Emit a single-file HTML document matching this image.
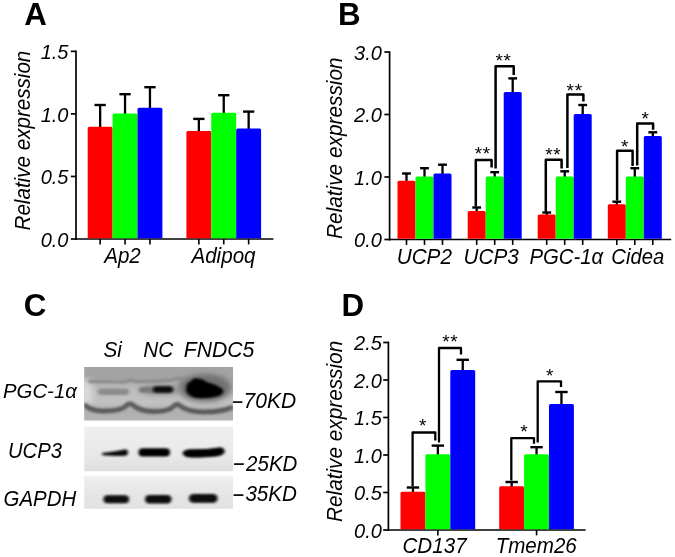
<!DOCTYPE html>
<html><head><meta charset="utf-8"><title>Figure</title>
<style>
html,body{margin:0;padding:0;background:#fff;}
body{width:675px;height:557px;overflow:hidden;}
svg{display:block;}
svg text{font-family:"Liberation Sans",sans-serif;fill:#000;}
</style></head><body>
<svg width="675" height="557" viewBox="0 0 675 557">
<rect width="675" height="557" fill="#fff"/>
<text x="24.3" y="25.4" font-size="31.3" text-anchor="start" font-weight="bold">A</text>
<line x1="76" y1="50.6" x2="76" y2="240" stroke="#000" stroke-width="1.7" stroke-linecap="butt"/>
<line x1="75.15" y1="239" x2="273.4" y2="239" stroke="#000" stroke-width="1.7" stroke-linecap="butt"/>
<line x1="70.8" y1="239.0" x2="76" y2="239.0" stroke="#000" stroke-width="1.7" stroke-linecap="butt"/>
<text x="68.5" y="246.8" font-size="21" text-anchor="end" font-style="italic" textLength="27.8" lengthAdjust="spacingAndGlyphs">0.0</text>
<line x1="70.8" y1="176.45" x2="76" y2="176.45" stroke="#000" stroke-width="1.7" stroke-linecap="butt"/>
<text x="68.5" y="184.25" font-size="21" text-anchor="end" font-style="italic" textLength="27.8" lengthAdjust="spacingAndGlyphs">0.5</text>
<line x1="70.8" y1="113.9" x2="76" y2="113.9" stroke="#000" stroke-width="1.7" stroke-linecap="butt"/>
<text x="68.5" y="121.7" font-size="21" text-anchor="end" font-style="italic" textLength="27.8" lengthAdjust="spacingAndGlyphs">1.0</text>
<line x1="70.8" y1="51.35" x2="76" y2="51.35" stroke="#000" stroke-width="1.7" stroke-linecap="butt"/>
<text x="68.5" y="59.15" font-size="21" text-anchor="end" font-style="italic" textLength="27.8" lengthAdjust="spacingAndGlyphs">1.5</text>
<text x="29.6" y="140.6" font-size="21.8" text-anchor="middle" font-style="italic" textLength="179.8" lengthAdjust="spacingAndGlyphs" transform="rotate(-90 29.6 140.6)">Relative expression</text>
<line x1="100.15" y1="105" x2="100.15" y2="127.7" stroke="#000" stroke-width="2.3" stroke-linecap="butt"/>
<line x1="94.5" y1="105" x2="105.80000000000001" y2="105" stroke="#000" stroke-width="2.4" stroke-linecap="butt"/>
<path d="M87.70 238.2 V128.20 Q87.70 126.70 89.20 126.70 H111.10 Q112.60 126.70 112.60 128.20 V238.2 Z" fill="#ff0000"/>
<line x1="100.15" y1="239" x2="100.15" y2="244.4" stroke="#000" stroke-width="1.6" stroke-linecap="butt"/>
<line x1="125.05" y1="94.2" x2="125.05" y2="114.4" stroke="#000" stroke-width="2.3" stroke-linecap="butt"/>
<line x1="119.39999999999999" y1="94.2" x2="130.7" y2="94.2" stroke="#000" stroke-width="2.4" stroke-linecap="butt"/>
<path d="M112.60 238.2 V114.90 Q112.60 113.40 114.10 113.40 H136.00 Q137.50 113.40 137.50 114.90 V238.2 Z" fill="#00ff00"/>
<line x1="125.05" y1="239" x2="125.05" y2="244.4" stroke="#000" stroke-width="1.6" stroke-linecap="butt"/>
<line x1="149.95" y1="87.2" x2="149.95" y2="108.8" stroke="#000" stroke-width="2.3" stroke-linecap="butt"/>
<line x1="144.29999999999998" y1="87.2" x2="155.6" y2="87.2" stroke="#000" stroke-width="2.4" stroke-linecap="butt"/>
<path d="M137.50 238.2 V109.30 Q137.50 107.80 139.00 107.80 H160.90 Q162.40 107.80 162.40 109.30 V238.2 Z" fill="#0000ff"/>
<line x1="149.95" y1="239" x2="149.95" y2="244.4" stroke="#000" stroke-width="1.6" stroke-linecap="butt"/>
<text x="104.2" y="262.9" font-size="21.8" text-anchor="start" font-style="italic" textLength="36.6" lengthAdjust="spacingAndGlyphs">Ap2</text>
<line x1="198.85000000000002" y1="118.9" x2="198.85000000000002" y2="132" stroke="#000" stroke-width="2.3" stroke-linecap="butt"/>
<line x1="193.20000000000002" y1="118.9" x2="204.50000000000003" y2="118.9" stroke="#000" stroke-width="2.4" stroke-linecap="butt"/>
<path d="M186.40 238.2 V132.50 Q186.40 131.00 187.90 131.00 H209.80 Q211.30 131.00 211.30 132.50 V238.2 Z" fill="#ff0000"/>
<line x1="198.85" y1="239" x2="198.85" y2="244.4" stroke="#000" stroke-width="1.6" stroke-linecap="butt"/>
<line x1="223.75" y1="95.2" x2="223.75" y2="113.8" stroke="#000" stroke-width="2.3" stroke-linecap="butt"/>
<line x1="218.1" y1="95.2" x2="229.4" y2="95.2" stroke="#000" stroke-width="2.4" stroke-linecap="butt"/>
<path d="M211.30 238.2 V114.30 Q211.30 112.80 212.80 112.80 H234.70 Q236.20 112.80 236.20 114.30 V238.2 Z" fill="#00ff00"/>
<line x1="223.75" y1="239" x2="223.75" y2="244.4" stroke="#000" stroke-width="1.6" stroke-linecap="butt"/>
<line x1="248.64999999999998" y1="111.6" x2="248.64999999999998" y2="129.5" stroke="#000" stroke-width="2.3" stroke-linecap="butt"/>
<line x1="242.99999999999997" y1="111.6" x2="254.29999999999998" y2="111.6" stroke="#000" stroke-width="2.4" stroke-linecap="butt"/>
<path d="M236.20 238.2 V130.00 Q236.20 128.50 237.70 128.50 H259.60 Q261.10 128.50 261.10 130.00 V238.2 Z" fill="#0000ff"/>
<line x1="248.64999999999998" y1="239" x2="248.64999999999998" y2="244.4" stroke="#000" stroke-width="1.6" stroke-linecap="butt"/>
<text x="191.4" y="262.9" font-size="21.8" text-anchor="start" font-style="italic" textLength="64.2" lengthAdjust="spacingAndGlyphs">Adipoq</text>
<text x="338.0" y="25.4" font-size="31.3" text-anchor="start" font-weight="bold">B</text>
<line x1="389.6" y1="51.2" x2="389.6" y2="240.5" stroke="#000" stroke-width="1.7" stroke-linecap="butt"/>
<line x1="388.75" y1="239.5" x2="671.2" y2="239.5" stroke="#000" stroke-width="1.7" stroke-linecap="butt"/>
<line x1="384.40000000000003" y1="239.5" x2="389.6" y2="239.5" stroke="#000" stroke-width="1.7" stroke-linecap="butt"/>
<text x="381.9" y="247.3" font-size="21" text-anchor="end" font-style="italic" textLength="27.8" lengthAdjust="spacingAndGlyphs">0.0</text>
<line x1="384.40000000000003" y1="177.0" x2="389.6" y2="177.0" stroke="#000" stroke-width="1.7" stroke-linecap="butt"/>
<text x="381.9" y="184.8" font-size="21" text-anchor="end" font-style="italic" textLength="27.8" lengthAdjust="spacingAndGlyphs">1.0</text>
<line x1="384.40000000000003" y1="114.5" x2="389.6" y2="114.5" stroke="#000" stroke-width="1.7" stroke-linecap="butt"/>
<text x="381.9" y="122.3" font-size="21" text-anchor="end" font-style="italic" textLength="27.8" lengthAdjust="spacingAndGlyphs">2.0</text>
<line x1="384.40000000000003" y1="52.0" x2="389.6" y2="52.0" stroke="#000" stroke-width="1.7" stroke-linecap="butt"/>
<text x="381.9" y="59.8" font-size="21" text-anchor="end" font-style="italic" textLength="27.8" lengthAdjust="spacingAndGlyphs">3.0</text>
<text x="342.5" y="148.2" font-size="21.8" text-anchor="middle" font-style="italic" textLength="181.5" lengthAdjust="spacingAndGlyphs" transform="rotate(-90 342.5 148.2)">Relative expression</text>
<line x1="406.5" y1="173.5" x2="406.5" y2="181.8" stroke="#000" stroke-width="2.3" stroke-linecap="butt"/>
<line x1="402.1" y1="173.5" x2="410.9" y2="173.5" stroke="#000" stroke-width="2.4" stroke-linecap="butt"/>
<path d="M397.50 238.7 V182.30 Q397.50 180.80 399.00 180.80 H414.00 Q415.50 180.80 415.50 182.30 V238.7 Z" fill="#ff0000"/>
<line x1="406.5" y1="239.5" x2="406.5" y2="244.9" stroke="#000" stroke-width="1.6" stroke-linecap="butt"/>
<line x1="424.5" y1="168.2" x2="424.5" y2="177.5" stroke="#000" stroke-width="2.3" stroke-linecap="butt"/>
<line x1="420.1" y1="168.2" x2="428.9" y2="168.2" stroke="#000" stroke-width="2.4" stroke-linecap="butt"/>
<path d="M415.50 238.7 V178.00 Q415.50 176.50 417.00 176.50 H432.00 Q433.50 176.50 433.50 178.00 V238.7 Z" fill="#00ff00"/>
<line x1="424.5" y1="239.5" x2="424.5" y2="244.9" stroke="#000" stroke-width="1.6" stroke-linecap="butt"/>
<line x1="442.5" y1="164.7" x2="442.5" y2="174.5" stroke="#000" stroke-width="2.3" stroke-linecap="butt"/>
<line x1="438.1" y1="164.7" x2="446.9" y2="164.7" stroke="#000" stroke-width="2.4" stroke-linecap="butt"/>
<path d="M433.50 238.7 V175.00 Q433.50 173.50 435.00 173.50 H450.00 Q451.50 173.50 451.50 175.00 V238.7 Z" fill="#0000ff"/>
<line x1="442.5" y1="239.5" x2="442.5" y2="244.9" stroke="#000" stroke-width="1.6" stroke-linecap="butt"/>
<text x="396.7" y="263.7" font-size="21.8" text-anchor="start" font-style="italic" textLength="55.3" lengthAdjust="spacingAndGlyphs">UCP2</text>
<line x1="476.7" y1="207.5" x2="476.7" y2="212" stroke="#000" stroke-width="2.3" stroke-linecap="butt"/>
<line x1="472.3" y1="207.5" x2="481.09999999999997" y2="207.5" stroke="#000" stroke-width="2.4" stroke-linecap="butt"/>
<path d="M467.70 238.7 V212.50 Q467.70 211.00 469.20 211.00 H484.20 Q485.70 211.00 485.70 212.50 V238.7 Z" fill="#ff0000"/>
<line x1="476.7" y1="239.5" x2="476.7" y2="244.9" stroke="#000" stroke-width="1.6" stroke-linecap="butt"/>
<line x1="494.7" y1="172.2" x2="494.7" y2="177.5" stroke="#000" stroke-width="2.3" stroke-linecap="butt"/>
<line x1="490.3" y1="172.2" x2="499.09999999999997" y2="172.2" stroke="#000" stroke-width="2.4" stroke-linecap="butt"/>
<path d="M485.70 238.7 V178.00 Q485.70 176.50 487.20 176.50 H502.20 Q503.70 176.50 503.70 178.00 V238.7 Z" fill="#00ff00"/>
<line x1="494.7" y1="239.5" x2="494.7" y2="244.9" stroke="#000" stroke-width="1.6" stroke-linecap="butt"/>
<line x1="512.7" y1="78.4" x2="512.7" y2="92.9" stroke="#000" stroke-width="2.3" stroke-linecap="butt"/>
<line x1="508.30000000000007" y1="78.4" x2="517.1" y2="78.4" stroke="#000" stroke-width="2.4" stroke-linecap="butt"/>
<path d="M503.70 238.7 V93.40 Q503.70 91.90 505.20 91.90 H520.20 Q521.70 91.90 521.70 93.40 V238.7 Z" fill="#0000ff"/>
<line x1="512.7" y1="239.5" x2="512.7" y2="244.9" stroke="#000" stroke-width="1.6" stroke-linecap="butt"/>
<text x="463.6" y="263.7" font-size="21.8" text-anchor="start" font-style="italic" textLength="55.3" lengthAdjust="spacingAndGlyphs">UCP3</text>
<line x1="546.7" y1="212.5" x2="546.7" y2="215.6" stroke="#000" stroke-width="2.3" stroke-linecap="butt"/>
<line x1="542.3000000000001" y1="212.5" x2="551.1" y2="212.5" stroke="#000" stroke-width="2.4" stroke-linecap="butt"/>
<path d="M537.70 238.7 V216.10 Q537.70 214.60 539.20 214.60 H554.20 Q555.70 214.60 555.70 216.10 V238.7 Z" fill="#ff0000"/>
<line x1="546.7" y1="239.5" x2="546.7" y2="244.9" stroke="#000" stroke-width="1.6" stroke-linecap="butt"/>
<line x1="564.7" y1="171.3" x2="564.7" y2="177.5" stroke="#000" stroke-width="2.3" stroke-linecap="butt"/>
<line x1="560.3000000000001" y1="171.3" x2="569.1" y2="171.3" stroke="#000" stroke-width="2.4" stroke-linecap="butt"/>
<path d="M555.70 238.7 V178.00 Q555.70 176.50 557.20 176.50 H572.20 Q573.70 176.50 573.70 178.00 V238.7 Z" fill="#00ff00"/>
<line x1="564.7" y1="239.5" x2="564.7" y2="244.9" stroke="#000" stroke-width="1.6" stroke-linecap="butt"/>
<line x1="582.7" y1="105" x2="582.7" y2="115.0" stroke="#000" stroke-width="2.3" stroke-linecap="butt"/>
<line x1="578.3000000000001" y1="105" x2="587.1" y2="105" stroke="#000" stroke-width="2.4" stroke-linecap="butt"/>
<path d="M573.70 238.7 V115.50 Q573.70 114.00 575.20 114.00 H590.20 Q591.70 114.00 591.70 115.50 V238.7 Z" fill="#0000ff"/>
<line x1="582.7" y1="239.5" x2="582.7" y2="244.9" stroke="#000" stroke-width="1.6" stroke-linecap="butt"/>
<text x="529.4" y="263.7" font-size="21.8" text-anchor="start" font-style="italic" textLength="73.8" lengthAdjust="spacingAndGlyphs">PGC-1α</text>
<line x1="616.8" y1="201.7" x2="616.8" y2="205.2" stroke="#000" stroke-width="2.3" stroke-linecap="butt"/>
<line x1="612.4" y1="201.7" x2="621.1999999999999" y2="201.7" stroke="#000" stroke-width="2.4" stroke-linecap="butt"/>
<path d="M607.80 238.7 V205.70 Q607.80 204.20 609.30 204.20 H624.30 Q625.80 204.20 625.80 205.70 V238.7 Z" fill="#ff0000"/>
<line x1="616.8" y1="239.5" x2="616.8" y2="244.9" stroke="#000" stroke-width="1.6" stroke-linecap="butt"/>
<line x1="634.8" y1="168.2" x2="634.8" y2="177.5" stroke="#000" stroke-width="2.3" stroke-linecap="butt"/>
<line x1="630.4" y1="168.2" x2="639.1999999999999" y2="168.2" stroke="#000" stroke-width="2.4" stroke-linecap="butt"/>
<path d="M625.80 238.7 V178.00 Q625.80 176.50 627.30 176.50 H642.30 Q643.80 176.50 643.80 178.00 V238.7 Z" fill="#00ff00"/>
<line x1="634.8" y1="239.5" x2="634.8" y2="244.9" stroke="#000" stroke-width="1.6" stroke-linecap="butt"/>
<line x1="652.8" y1="132.3" x2="652.8" y2="136.9" stroke="#000" stroke-width="2.3" stroke-linecap="butt"/>
<line x1="648.4" y1="132.3" x2="657.1999999999999" y2="132.3" stroke="#000" stroke-width="2.4" stroke-linecap="butt"/>
<path d="M643.80 238.7 V137.40 Q643.80 135.90 645.30 135.90 H660.30 Q661.80 135.90 661.80 137.40 V238.7 Z" fill="#0000ff"/>
<line x1="652.8" y1="239.5" x2="652.8" y2="244.9" stroke="#000" stroke-width="1.6" stroke-linecap="butt"/>
<text x="611.3" y="263.7" font-size="21.8" text-anchor="start" font-style="italic" textLength="52.9" lengthAdjust="spacingAndGlyphs">Cidea</text>
<path d="M475.8 206.5 V160.0 H491.6 V167.5" fill="none" stroke="#000" stroke-width="2.5" stroke-linejoin="round"/>
<text x="482.75" y="160.0" font-size="19" text-anchor="middle" letter-spacing="0.7">**</text>
<path d="M495.6 168.4 V66.2 H513.7 V75" fill="none" stroke="#000" stroke-width="2.5" stroke-linejoin="round"/>
<text x="503.55" y="66.7" font-size="19" text-anchor="middle" letter-spacing="0.7">**</text>
<path d="M545.8 211.8 V159.8 H561.6 V168.6" fill="none" stroke="#000" stroke-width="2.5" stroke-linejoin="round"/>
<text x="553.25" y="160.6" font-size="19" text-anchor="middle" letter-spacing="0.7">**</text>
<path d="M567.4 168.0 V94.6 H583.4 V101.5" fill="none" stroke="#000" stroke-width="2.5" stroke-linejoin="round"/>
<text x="574.65" y="96.7" font-size="19" text-anchor="middle" letter-spacing="0.7">**</text>
<path d="M617.1 200.6 V150.8 H632.6 V166" fill="none" stroke="#000" stroke-width="2.5" stroke-linejoin="round"/>
<text x="624.6" y="153.0" font-size="19" text-anchor="middle">*</text>
<path d="M637.2 165.4 V123.6 H653.1 V129.7" fill="none" stroke="#000" stroke-width="2.5" stroke-linejoin="round"/>
<text x="645.3" y="125.1" font-size="19" text-anchor="middle">*</text>
<text x="341.6" y="316.4" font-size="31.3" text-anchor="start" font-weight="bold">D</text>
<line x1="388.4" y1="341.6" x2="388.4" y2="531" stroke="#000" stroke-width="1.7" stroke-linecap="butt"/>
<line x1="387.54999999999995" y1="530" x2="585.6" y2="530" stroke="#000" stroke-width="1.7" stroke-linecap="butt"/>
<line x1="383.2" y1="530.0" x2="388.4" y2="530.0" stroke="#000" stroke-width="1.7" stroke-linecap="butt"/>
<text x="381.9" y="537.8" font-size="21" text-anchor="end" font-style="italic" textLength="27.8" lengthAdjust="spacingAndGlyphs">0.0</text>
<line x1="383.2" y1="492.5" x2="388.4" y2="492.5" stroke="#000" stroke-width="1.7" stroke-linecap="butt"/>
<text x="381.9" y="500.3" font-size="21" text-anchor="end" font-style="italic" textLength="27.8" lengthAdjust="spacingAndGlyphs">0.5</text>
<line x1="383.2" y1="455.0" x2="388.4" y2="455.0" stroke="#000" stroke-width="1.7" stroke-linecap="butt"/>
<text x="381.9" y="462.8" font-size="21" text-anchor="end" font-style="italic" textLength="27.8" lengthAdjust="spacingAndGlyphs">1.0</text>
<line x1="383.2" y1="417.5" x2="388.4" y2="417.5" stroke="#000" stroke-width="1.7" stroke-linecap="butt"/>
<text x="381.9" y="425.3" font-size="21" text-anchor="end" font-style="italic" textLength="27.8" lengthAdjust="spacingAndGlyphs">1.5</text>
<line x1="383.2" y1="380.0" x2="388.4" y2="380.0" stroke="#000" stroke-width="1.7" stroke-linecap="butt"/>
<text x="381.9" y="387.8" font-size="21" text-anchor="end" font-style="italic" textLength="27.8" lengthAdjust="spacingAndGlyphs">2.0</text>
<line x1="383.2" y1="342.5" x2="388.4" y2="342.5" stroke="#000" stroke-width="1.7" stroke-linecap="butt"/>
<text x="381.9" y="350.3" font-size="21" text-anchor="end" font-style="italic" textLength="27.8" lengthAdjust="spacingAndGlyphs">2.5</text>
<text x="342.4" y="431.4" font-size="21.8" text-anchor="middle" font-style="italic" textLength="181.2" lengthAdjust="spacingAndGlyphs" transform="rotate(-90 342.4 431.4)">Relative expression</text>
<line x1="412.95" y1="487.5" x2="412.95" y2="492.8" stroke="#000" stroke-width="2.3" stroke-linecap="butt"/>
<line x1="406.75" y1="487.5" x2="419.15" y2="487.5" stroke="#000" stroke-width="2.4" stroke-linecap="butt"/>
<path d="M400.50 529.2 V493.30 Q400.50 491.80 402.00 491.80 H423.90 Q425.40 491.80 425.40 493.30 V529.2 Z" fill="#ff0000"/>
<line x1="437.84999999999997" y1="445.6" x2="437.84999999999997" y2="455.3" stroke="#000" stroke-width="2.3" stroke-linecap="butt"/>
<line x1="431.65" y1="445.6" x2="444.04999999999995" y2="445.6" stroke="#000" stroke-width="2.4" stroke-linecap="butt"/>
<path d="M425.40 529.2 V455.80 Q425.40 454.30 426.90 454.30 H448.80 Q450.30 454.30 450.30 455.80 V529.2 Z" fill="#00ff00"/>
<line x1="462.75" y1="359.8" x2="462.75" y2="371" stroke="#000" stroke-width="2.3" stroke-linecap="butt"/>
<line x1="456.55" y1="359.8" x2="468.95" y2="359.8" stroke="#000" stroke-width="2.4" stroke-linecap="butt"/>
<path d="M450.30 529.2 V371.50 Q450.30 370.00 451.80 370.00 H473.70 Q475.20 370.00 475.20 371.50 V529.2 Z" fill="#0000ff"/>
<line x1="437.85" y1="530" x2="437.85" y2="535.4" stroke="#000" stroke-width="1.6" stroke-linecap="butt"/>
<text x="402.5" y="552.8" font-size="21.8" text-anchor="start" font-style="italic" textLength="64.1" lengthAdjust="spacingAndGlyphs">CD137</text>
<line x1="511.65" y1="482" x2="511.65" y2="487.3" stroke="#000" stroke-width="2.3" stroke-linecap="butt"/>
<line x1="505.45" y1="482" x2="517.85" y2="482" stroke="#000" stroke-width="2.4" stroke-linecap="butt"/>
<path d="M499.20 529.2 V487.80 Q499.20 486.30 500.70 486.30 H522.60 Q524.10 486.30 524.10 487.80 V529.2 Z" fill="#ff0000"/>
<line x1="536.55" y1="447.2" x2="536.55" y2="455.3" stroke="#000" stroke-width="2.3" stroke-linecap="butt"/>
<line x1="530.3499999999999" y1="447.2" x2="542.75" y2="447.2" stroke="#000" stroke-width="2.4" stroke-linecap="butt"/>
<path d="M524.10 529.2 V455.80 Q524.10 454.30 525.60 454.30 H547.50 Q549.00 454.30 549.00 455.80 V529.2 Z" fill="#00ff00"/>
<line x1="561.45" y1="392" x2="561.45" y2="405" stroke="#000" stroke-width="2.3" stroke-linecap="butt"/>
<line x1="555.25" y1="392" x2="567.6500000000001" y2="392" stroke="#000" stroke-width="2.4" stroke-linecap="butt"/>
<path d="M549.00 529.2 V405.50 Q549.00 404.00 550.50 404.00 H572.40 Q573.90 404.00 573.90 405.50 V529.2 Z" fill="#0000ff"/>
<line x1="536.55" y1="530" x2="536.55" y2="535.4" stroke="#000" stroke-width="1.6" stroke-linecap="butt"/>
<text x="495.7" y="552.8" font-size="21.8" text-anchor="start" font-style="italic" textLength="81.1" lengthAdjust="spacingAndGlyphs">Tmem26</text>
<path d="M412.6 486.3 V432.5 H435.3 V440.5" fill="none" stroke="#000" stroke-width="2.3" stroke-linejoin="round"/>
<text x="422.7" y="432.4" font-size="19" text-anchor="middle">*</text>
<path d="M439 442.5 V348.0 H461 V354.5" fill="none" stroke="#000" stroke-width="2.3" stroke-linejoin="round"/>
<text x="450.35" y="347.7" font-size="19" text-anchor="middle" letter-spacing="0.7">**</text>
<path d="M511.3 480.5 V438.1 H534 V443.8" fill="none" stroke="#000" stroke-width="2.3" stroke-linejoin="round"/>
<text x="523.9" y="438.1" font-size="19" text-anchor="middle">*</text>
<path d="M537.7 442.5 V381.3 H561 V387" fill="none" stroke="#000" stroke-width="2.3" stroke-linejoin="round"/>
<text x="549.6" y="381.7" font-size="19" text-anchor="middle">*</text>
<text x="23.7" y="316.2" font-size="31.3" text-anchor="start" font-weight="bold">C</text>
<text x="103.4" y="357.2" font-size="22.5" text-anchor="start" font-style="italic" textLength="18.4" lengthAdjust="spacingAndGlyphs">Si</text>
<text x="143.2" y="357.2" font-size="22.5" text-anchor="start" font-style="italic" textLength="30" lengthAdjust="spacingAndGlyphs">NC</text>
<text x="183.8" y="357.2" font-size="22.5" text-anchor="start" font-style="italic" textLength="70.5" lengthAdjust="spacingAndGlyphs">FNDC5</text>
<text x="3" y="397.6" font-size="21" text-anchor="start" font-style="italic" textLength="73.8" lengthAdjust="spacingAndGlyphs">PGC-1α</text>
<text x="8.0" y="458.3" font-size="21.5" text-anchor="start" font-style="italic" textLength="54" lengthAdjust="spacingAndGlyphs">UCP3</text>
<text x="3.6" y="505.9" font-size="21.5" text-anchor="start" font-style="italic" textLength="72.6" lengthAdjust="spacingAndGlyphs">GAPDH</text>
<text x="231.5" y="409.9" font-size="24" text-anchor="start" textLength="11.8" lengthAdjust="spacingAndGlyphs">−</text>
<text x="243.6" y="408.3" font-size="21.5" text-anchor="start" font-style="italic" textLength="52.6" lengthAdjust="spacingAndGlyphs">70KD</text>
<text x="233.0" y="471.8" font-size="24" text-anchor="start" textLength="11.8" lengthAdjust="spacingAndGlyphs">−</text>
<text x="246.1" y="470.6" font-size="21.5" text-anchor="start" font-style="italic" textLength="51.3" lengthAdjust="spacingAndGlyphs">25KD</text>
<text x="232.5" y="502.6" font-size="24" text-anchor="start" textLength="11.8" lengthAdjust="spacingAndGlyphs">−</text>
<text x="245.4" y="501.0" font-size="21.5" text-anchor="start" font-style="italic" textLength="51.6" lengthAdjust="spacingAndGlyphs">35KD</text>
<defs>
<filter id="b1" x="-20%" y="-60%" width="140%" height="220%"><feGaussianBlur stdDeviation="1.8 1.3"/></filter>
<filter id="b2" x="-30%" y="-60%" width="160%" height="220%"><feGaussianBlur stdDeviation="3.5 2.6"/></filter>
<filter id="b3" x="-20%" y="-80%" width="140%" height="260%"><feGaussianBlur stdDeviation="1.6 1.3"/></filter>
<filter id="b4" x="-50%" y="-50%" width="200%" height="200%"><feGaussianBlur stdDeviation="6 5"/></filter>
<linearGradient id="g1" x1="0" y1="0" x2="0" y2="1">
<stop offset="0" stop-color="#a3a3a3"/><stop offset="0.22" stop-color="#a4a4a4"/><stop offset="0.4" stop-color="#bcbcbc"/><stop offset="0.65" stop-color="#c2c2c2"/><stop offset="0.85" stop-color="#b0b0b0"/><stop offset="1" stop-color="#b4b4b4"/></linearGradient>
<linearGradient id="g2" x1="0" y1="0" x2="0" y2="1">
<stop offset="0" stop-color="#efefef"/><stop offset="0.6" stop-color="#e9e9e9"/><stop offset="1" stop-color="#dfdfdf"/></linearGradient>
<linearGradient id="g3" x1="0" y1="0" x2="0" y2="1">
<stop offset="0" stop-color="#f0f0f0"/><stop offset="0.5" stop-color="#e6e6e6"/><stop offset="1" stop-color="#e2e2e2"/></linearGradient>
<clipPath id="c1"><rect x="84.2" y="367" width="148.8" height="53.5"/></clipPath>
<clipPath id="c2"><rect x="84.2" y="426.6" width="148.8" height="44.6"/></clipPath>
<clipPath id="c3"><rect x="84.2" y="475.8" width="148.8" height="33"/></clipPath>
</defs>
<rect x="84.2" y="367" width="148.8" height="53.5" fill="url(#g1)"/>
<g clip-path="url(#c1)">
<ellipse cx="86" cy="392" rx="6" ry="14" fill="#dcdcdc" filter="url(#b2)"/>
<ellipse cx="205" cy="388" rx="27" ry="14" fill="#707070" filter="url(#b2)"/>
<ellipse cx="160" cy="390" rx="20" ry="5" fill="#8c8c8c" filter="url(#b2)"/>
<path d="M88 381.5 Q108 381.5 124 382 Q130 379 136 381.5 Q156 381.5 172 380 Q178 377 184 379" stroke="#8a8a8a" stroke-width="3" fill="none" filter="url(#b1)"/>
<path d="M84 404 Q89 410.5 102 411 Q120 411.5 126 406 Q130 401.5 134 406 Q141 411.5 155 411.5 Q168 411.5 173.5 406.5 Q177 402 181 406.5 Q189 412 204 412 Q222 412 233 407" stroke="#5c5c5c" stroke-width="5" fill="none" filter="url(#b1)"/>
<rect x="98" y="388.5" width="31" height="6.5" rx="3.2" fill="#8c8c8c" filter="url(#b1)"/>
<rect x="139" y="387.2" width="33" height="5.2" rx="2.6" fill="#777" filter="url(#b1)"/>
<rect x="153" y="386.3" width="20" height="6.4" rx="3.2" fill="#0c0c0c" filter="url(#b1)"/>
<path d="M187.5 386 Q188 383 192 382 Q193 378.5 198 379.5 Q203 380 206 383 Q216 385.5 221 389 Q224.5 392 219 395 Q208 398 197 397 Q188 395.5 187 390 Z" fill="#050505" stroke="#050505" stroke-width="2" filter="url(#b1)"/>
</g>
<rect x="84.2" y="426.6" width="148.8" height="44.6" fill="url(#g2)"/>
<g clip-path="url(#c2)">
<path d="M103 453.6 Q112 452.6 126 450 Q128.5 452.5 126 455 Q112 455.6 103 454.4 Z" fill="#111" stroke="#111" stroke-width="1.6" filter="url(#b3)"/>
<rect x="138.5" y="448.3" width="31.5" height="8.2" rx="4.1" fill="#060606" filter="url(#b3)"/>
<path d="M183 453 Q184 449.5 192 449.8 Q208 450 220 447.8 Q224.5 448 224.2 452 Q223.5 455.5 214 456.2 Q200 457.5 190 457 Q183 456.5 183 453 Z" fill="#050505" stroke="#050505" stroke-width="1" filter="url(#b3)"/>
</g>
<rect x="84.2" y="475.8" width="148.8" height="33" fill="url(#g3)"/>
<g clip-path="url(#c3)">
<rect x="103.5" y="495.3" width="25.5" height="8" rx="4" fill="#080808" filter="url(#b3)"/>
<rect x="145" y="495" width="26.5" height="8.4" rx="4.2" fill="#080808" filter="url(#b3)"/>
<rect x="189" y="494" width="28.5" height="8.8" rx="4.4" fill="#080808" filter="url(#b3)"/>
</g>
</svg>
</body></html>
